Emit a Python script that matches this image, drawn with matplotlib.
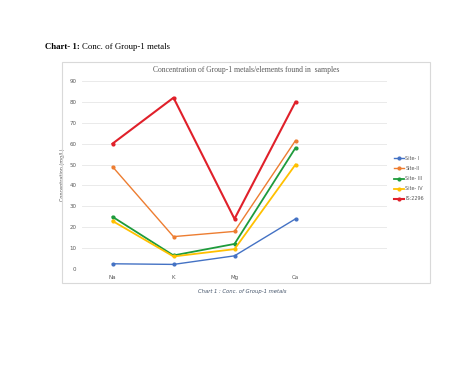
import matplotlib.pyplot as plt
from matplotlib.patches import Rectangle

# data
elements = ["Na", "K", "Mg", "Ca"]
site_1 = [2.5, 2.2, 6.3, 24.0]
site_2 = [49.0, 15.5, 18.0, 61.5]
site_3 = [25.0, 6.5, 12.0, 58.0]
site_4 = [23.0, 6.0, 9.5, 50.0]
is_2296 = [60.0, 82.0, 24.0, 80.0]
labels = ["Site- I", "Site-II", "Site- III", "Site- IV", "IS:2296"]
colors = ["#4472C4", "#ED7D31", "#1E9B3C", "#FFC000", "#E0202A"]

W, H = 474, 366

def fx(px):
    return px / W

def fy(py):
    return 1 - py / H

fig = plt.figure(figsize=(4.74, 3.66), dpi=100)

# page heading: bold part, then plain part placed right after it
t1 = fig.text(fx(45), fy(47), "Chart- 1:", fontsize=6.3, fontweight="bold",
              family="Liberation Serif", va="center")
fig.canvas.draw()
bb = t1.get_window_extent()
fig.text(bb.x1 / W + fx(2), fy(47), "Conc. of Group-1 metals", fontsize=6.3,
         family="Liberation Serif", va="center")

# chart frame
fig.patches.append(Rectangle((fx(62), fy(283)), fx(430) - fx(62), fy(62) - fy(283),
                             transform=fig.transFigure, fill=False,
                             edgecolor="#D9D9D9", linewidth=0.8))

ax = fig.add_axes([fx(82), fy(269), fx(387) - fx(82), fy(81) - fy(269)])
series = [site_1, site_2, site_3, site_4, is_2296]
widths = [1.0, 1.0, 1.3, 1.3, 1.5]
for vals, lab, col, lw in zip(series, labels, colors, widths):
    ax.plot(range(len(elements)), vals, color=col, lw=lw, marker="o",
            markersize=2, label=lab)

ax.set_xlim(-0.5, 4.5)
ax.set_ylim(0, 90)
ax.set_yticks(range(0, 91, 10))
ax.set_xticks(range(len(elements)))
ax.set_xticklabels(elements)
ax.tick_params(length=0, labelsize=4, labelcolor="#595959", pad=4)
ax.grid(axis="y", color="#E6E6E6", lw=0.6)
ax.set_axisbelow(True)
for s in ax.spines.values():
    s.set_visible(False)
ax.set_ylabel("Concentration (mg/L)", fontsize=3.5, color="#595959", labelpad=3)

fig.text(fx(246), fy(70), "Concentration of Group-1 metals/elements found in  samples",
         fontsize=5.5, color="#595959", family="Liberation Serif", ha="center", va="center")

leg = fig.legend(loc="upper left", bbox_to_anchor=(fx(394), fy(156)),
                 bbox_transform=fig.transFigure, frameon=False, fontsize=3.5,
                 handlelength=2.0, handletextpad=0.3, labelspacing=1.05,
                 borderpad=0, borderaxespad=0)
for t in leg.get_texts():
    t.set_color("#595959")

fig.text(fx(242), fy(291), "Chart 1 : Conc. of Group-1 metals", fontsize=3.8,
         style="italic", color="#44546A", ha="center", va="center")

fig.savefig("out.png", dpi=100)
